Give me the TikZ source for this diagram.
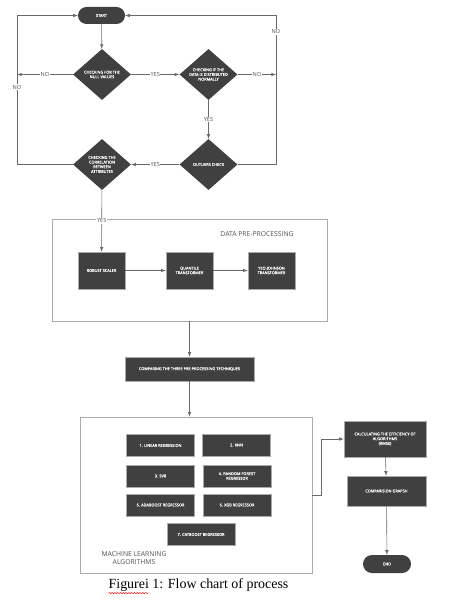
\documentclass[tikz,border=0pt]{standalone}
\usepackage{fontspec}
\usepackage{tikz}
\usepackage{xcolor}
\usetikzlibrary{shapes,arrows,positioning,calc,decorations.pathmorphing}
\setmainfont{Open Sans}
\newfontface\boxfont{Open Sans}[FakeBold=0.3]
\newfontfamily\capfont{Liberation Serif}
\definecolor{boxdark}{RGB}{64,64,64}
\definecolor{boxedge}{RGB}{170,170,170}
\definecolor{flowgray}{RGB}{105,105,105}
\definecolor{labelgray}{RGB}{80,80,80}

\tikzset{
  boxtext/.style={text=white,font=\boxfont\fontsize{3.9}{4.7}\selectfont,align=center},
  terminal/.style={rectangle,rounded corners=8.5bp,fill=boxdark,boxtext,minimum width=47bp,minimum height=17bp,inner sep=0},
  decision/.style={diamond,fill=boxdark,minimum width=58bp,minimum height=51bp,inner sep=0},
  dtext/.style={boxtext,inner sep=0},
  procbox/.style={rectangle,fill=boxdark,draw=boxedge,line width=0.5bp,boxtext,inner sep=1bp},
  mlbox/.style={procbox,minimum width=68bp,minimum height=22bp},
  groupbox/.style={rectangle,draw=boxedge,line width=0.8bp,inner sep=0},
  flow/.style={draw=flowgray,line width=0.6bp},
  arr/.style={flow,-latex},
  lbl/.style={fill=white,text=labelgray,font=\fontsize{5.6}{6}\selectfont,inner sep=0.6bp},
  grouptitle/.style={text=labelgray,font=\fontsize{6.8}{8.2}\selectfont,align=center,inner sep=0}
}

\begin{document}
\begin{tikzpicture}[x=1bp,y=-1bp]
    \useasboundingbox (0,0) rectangle (450,601);

    % Checks on the raw data
    \node[terminal] (start) at (101.5,15.5) {START};
    \node[decision,label={[dtext]center:CHECKING FOR THE\\NULL VALUES}] (null) at (102,74.5) {};
    \node[decision,label={[dtext]center:CHECKING IF THE\\DATA IS DISTRIBUTED\\NORMALLY}] (normal) at (208.5,74.5) {};
    \node[decision,label={[dtext]center:OUTLIERS CHECK}] (outl) at (208.5,164.5) {};
    \node[decision,label={[dtext]center:CHECKING THE\\CORRELATION\\BETWEEN\\ATTRIBUTES}] (corr) at (102,164.5) {};

    \coordinate (ltop) at (17,15.5);
    \coordinate (lmid) at (17,74.5);
    \coordinate (lbot) at (17,164.5);
    \coordinate (rtop) at (276,15.5);
    \coordinate (rmid) at (276,74.5);
    \coordinate (rbot) at (276,164.5);

    \draw[arr] (start) -- (null);
    \draw[arr] (null) -- node[lbl]{YES} (normal);
    \draw[arr] (normal) -- node[lbl]{YES} (outl);
    \draw[arr] (outl) -- node[lbl]{YES} (corr);
    \draw[arr] (null.west) -- node[lbl]{NO} (lmid);
    \draw[arr] (normal.east) -- node[lbl]{NO} (rmid);
    \draw[arr] (corr.west) -- (lbot) -- node[lbl,pos=0.52]{NO} (ltop) -- (start.west);
    \draw[arr] (outl.east) -- (rbot) -- node[lbl,pos=0.89]{NO} (rtop) -- (start.east);

    % Data pre-processing
    \node[groupbox,minimum width=275bp,minimum height=102bp] (prep) at (189.5,270) {};
    \node[grouptitle] (preptitle) at (257,234) {DATA PRE-PROCESSING};
    \node[procbox,minimum width=47bp,minimum height=37bp] (robust) at (101.5,270.5) {ROBUST SCALER};
    \node[procbox,minimum width=47bp,minimum height=37bp] (quant) at (189.5,270.5) {QUANTILE\\TRANSFORMER};
    \node[procbox,minimum width=47bp,minimum height=37bp] (yeo) at (271.5,270.5) {YEO-JOHNSON\\TRANSFORMER};

    \draw[arr] (corr) -- node[lbl]{YES} (robust);
    \draw[arr] (robust) -- (quant);
    \draw[arr] (quant) -- (yeo);

    \node[procbox,minimum width=129bp,minimum height=24bp] (compare) at (189.5,369) {COMPARING THE THREE PRE-PROCESSING TECHNIQUES};
    \draw[arr] (prep) -- (compare);

    % Machine learning algorithms
    \node[groupbox,minimum width=232bp,minimum height=156bp] (ml) at (196,495) {};
    \node[mlbox] (linreg) at (160.5,445.5) {1. LINEAR REGRESSION};
    \node[mlbox] (knn) at (236.5,445) {2. KNN};
    \node[mlbox] (svr) at (160.5,476) {3. SVR};
    \node[mlbox] (rforest) at (237,476) {4. RANDOM FOREST\\REGRESSOR};
    \node[mlbox] (ada) at (160.5,505) {5. ADABOOST REGRESSOR};
    \node[mlbox] (xgb) at (237,505) {6. XGB REGRESSOR};
    \node[mlbox] (cat) at (201,534.5) {7. CATBOOST REGRESSOR};
    \node[grouptitle] (mltitle) at (134,558) {MACHINE LEARNING\\ALGORITHMS};

    \draw[arr] (compare.south) -- (compare.south |- ml.north);

    % Evaluation
    \node[procbox,minimum width=82bp,minimum height=36bp] (calc) at (385,439) {CALCULATING THE EFFICIENCY OF\\ALGORITHMS\\(RMSE)};
    \node[procbox,minimum width=79bp,minimum height=30bp] (graph) at (386.5,491) {COMPARISION GRAPSH};
    \node[terminal,minimum width=48bp,minimum height=18bp,rounded corners=9bp] (end) at (387,564) {END};

    \draw[arr] (ml.east) -- ++(9,0) |- (calc.west);
    \draw[arr] (calc) -- (graph);
    \draw[arr] (graph) -- (end);

    % Caption
    \node[font=\capfont\fontsize{14}{16}\selectfont,inner sep=0] (caption) at (198.5,585) {Figurei 1: Flow chart of process};
    \draw[red,line width=0.4bp,decorate,decoration={snake,amplitude=0.7bp,segment length=2.8bp}]
        ($(caption.south west)+(0,1.5)$) -- ++(40,0);
\end{tikzpicture}
\end{document}
